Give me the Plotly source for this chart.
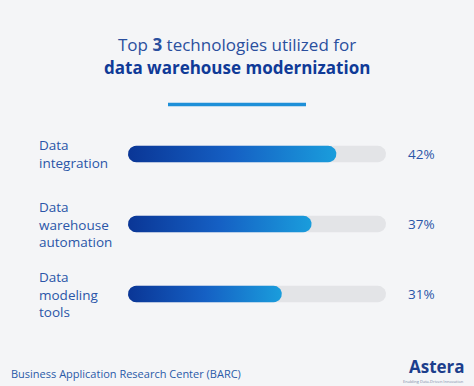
import numpy as np
import plotly.graph_objects as go

# ---- data ----
categories = ["Data<br>integration", "Data<br>warehouse<br>automation", "Data<br>modeling<br>tools"]
values = [42, 37, 31]
value_labels = ["42%", "37%", "31%"]
track_max = 52  # full length of the grey track (in %)

title_line1 = "Top <b>3</b> technologies utilized for"
title_line2 = "<b>data warehouse modernization</b>"
source_text = "Business Application Research Center (BARC)"

# ---- layout geometry ----
W, H = 474, 386
ML, MR, MT, MB = 128, 88, 119, 57
plot_w = W - ML - MR
plot_h = H - MT - MB
y_range = [2.5, -0.5]
px_per_x = plot_w / track_max
px_per_y = plot_h / 3.0
bar_half_px = 8.3
hy = bar_half_px / px_per_y
rx = bar_half_px / px_per_x


def stadium(x1, yc):
    t_r = np.linspace(-np.pi / 2, np.pi / 2, 40)
    t_l = np.linspace(np.pi / 2, 3 * np.pi / 2, 40)
    xs = np.concatenate([(x1 - rx) + rx * np.cos(t_r), rx + rx * np.cos(t_l)])
    ys = np.concatenate([yc + hy * np.sin(t_r), yc + hy * np.sin(t_l)])
    xs = np.append(xs, xs[0])
    ys = np.append(ys, ys[0])
    return xs, ys


fig = go.Figure()
for i, v in enumerate(values):
    tx, ty = stadium(track_max, i)
    fig.add_trace(go.Scatter(x=tx, y=ty, mode="lines", fill="toself",
                             fillcolor="#e3e4e7", line=dict(width=0),
                             hoverinfo="skip", showlegend=False))
    bx, by = stadium(v, i)
    fig.add_trace(go.Scatter(x=bx, y=by, mode="lines", fill="toself",
                             line=dict(width=0),
                             fillgradient=dict(type="horizontal",
                                               colorscale=[[0, "#0a3696"], [0.5, "#1560c4"], [1, "#1a9ddc"]]),
                             hoverinfo="skip", showlegend=False))


def px_x(p):
    return (p - ML) / plot_w


def px_y(p):
    return (H - MB - p) / plot_h


annotations = []
for i, (c, lab) in enumerate(zip(categories, value_labels)):
    annotations.append(dict(x=px_x(37), y=i, xref="paper", yref="y", text=c,
                            showarrow=False, xanchor="left", yanchor="middle",
                            align="left", font=dict(size=13.5, color="#2a55a8", family="Open Sans")))
    annotations.append(dict(x=px_x(437), y=i, xref="paper", yref="y", text=lab,
                            showarrow=False, xanchor="right", yanchor="middle",
                            font=dict(size=13.5, color="#2a55a8", family="Open Sans")))

annotations += [
    dict(x=px_x(237), y=px_y(45), xref="paper", yref="paper", text=title_line1,
         showarrow=False, xanchor="center", yanchor="middle",
         font=dict(size=17, color="#2a4f9e", family="Open Sans")),
    dict(x=px_x(237), y=px_y(67), xref="paper", yref="paper", text=title_line2,
         showarrow=False, xanchor="center", yanchor="middle",
         font=dict(size=17, color="#0f3a97", family="Open Sans")),
    dict(x=px_x(9), y=px_y(373), xref="paper", yref="paper", text=source_text,
         showarrow=False, xanchor="left", yanchor="middle",
         font=dict(size=11, color="#2a5aa8", family="Open Sans")),
    dict(x=px_x(467), y=px_y(366), xref="paper", yref="paper", text="<b>Astera</b>",
         showarrow=False, xanchor="right", yanchor="middle",
         font=dict(size=17, color="#1c3e8c", family="Open Sans")),
    dict(x=px_x(466), y=px_y(381), xref="paper", yref="paper", text="Enabling Data-Driven Innovation",
         showarrow=False, xanchor="right", yanchor="middle",
         font=dict(size=4, color="#7a8aa8", family="Open Sans")),
]

shapes = [
    dict(type="line", xref="paper", yref="paper",
         x0=px_x(168), x1=px_x(306), y0=px_y(104.5), y1=px_y(104.5),
         line=dict(color="#1d8fd8", width=3.5)),
]

fig.update_layout(
    width=W, height=H,
    margin=dict(l=ML, r=MR, t=MT, b=MB),
    paper_bgcolor="#f4f5f7", plot_bgcolor="rgba(0,0,0,0)",
    xaxis=dict(range=[0, track_max], visible=False, fixedrange=True),
    yaxis=dict(range=y_range, visible=False, fixedrange=True),
    annotations=annotations, shapes=shapes,
    showlegend=False,
)

fig.write_html("out.html", config={"displayModeBar": False},
               post_script="document.body.style.margin='0';document.body.style.background='#f4f5f7';")
